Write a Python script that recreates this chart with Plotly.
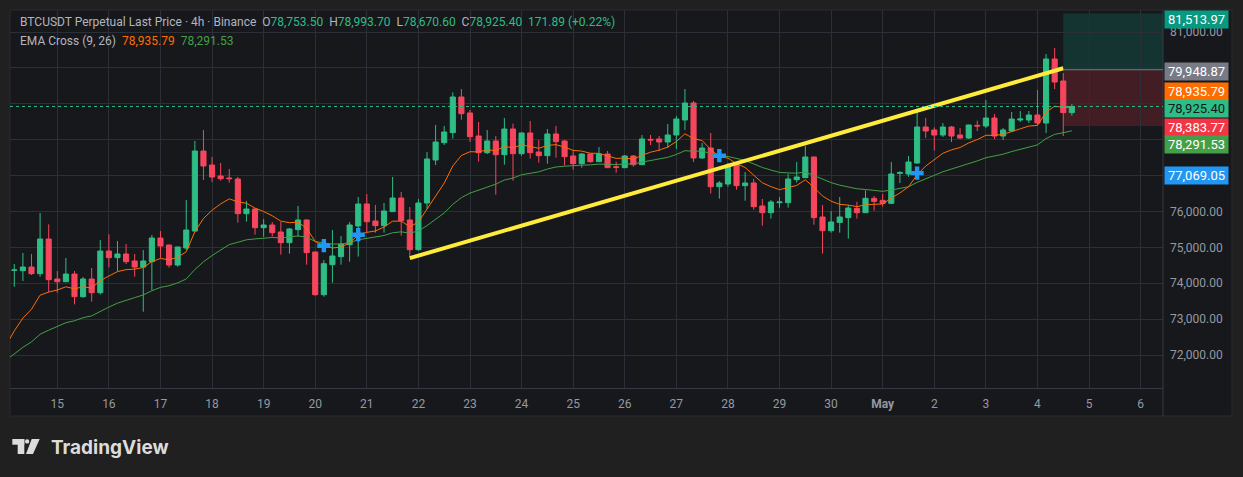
import plotly.graph_objects as go
import pandas as pd

# BTCUSDT perpetual, 4h candles (Binance)
times = pd.date_range("2025-04-14 04:00", periods=124, freq="4h")

opens = [74360, 74350, 74452, 74267, 75233, 74118, 74044, 74257, 73626, 74118,
         73737, 74898, 74713, 74815, 74620, 74452, 74601, 75260, 75065, 74508,
         74982, 75455, 77684, 77294, 76988, 76933, 76905, 75939, 76069, 75549,
         75623, 75428, 75131, 75493, 75763, 74871, 73682, 74518, 74741, 75075,
         75595, 76208, 75735, 75605, 75995, 76375, 75763, 74936, 76236, 77434,
         77917, 78196, 79189, 78744, 78103, 77638, 77963, 77582, 78298, 77610,
         78187, 77657, 77555, 78159, 77963, 77546, 77332, 77601, 77388, 77601,
         77248, 77221, 77546, 77304, 78010, 78020, 77936, 78131, 78549, 79022,
         77490, 77768, 76691, 76765, 77295, 76719, 76793, 76153, 75967, 76245,
         76245, 76887, 76942, 77518, 75846, 75465, 75696, 75828, 76087, 75966,
         76366, 76310, 76227, 77063, 77044, 77350, 78353, 78270, 78130, 78353,
         78130, 78047, 78399, 78381, 78604, 78102, 78242, 78548, 78548, 78687,
         78464, 80248, 79635, 78753.5]
highs = [74536, 74842, 74815, 75957, 75641, 74341, 74703, 74341, 74174, 74425,
         75205, 75363, 75177, 75093, 74815, 74926, 75344, 75455, 75080, 75020,
         76319, 77963, 78270, 77517, 77351, 77183, 76961, 76292, 76080, 75790,
         75707, 75707, 75540, 76153, 75775, 74880, 74648, 75484, 75317, 75707,
         76403, 76487, 76180, 76236, 76961, 76543, 76125, 76348, 77657, 78409,
         78381, 79319, 79412, 78827, 78493, 78270, 78103, 78604, 78446, 78200,
         78521, 77991, 78298, 78381, 77991, 77694, 77629, 77610, 77796, 77685,
         77388, 77573, 77573, 78131, 78131, 78103, 78437, 78660, 79412, 79078,
         77908, 78187, 76849, 77351, 77379, 77100, 76905, 76348, 76320, 76403,
         77044, 77379, 77824, 77525, 76180, 76013, 76403, 76180, 76273, 76589,
         76431, 76487, 77378, 77127, 77545, 78864, 78604, 78344, 78464, 78381,
         78325, 78415, 78530, 79105, 78715, 78325, 78771, 78799, 78799, 79384,
         80387, 80554, 79858, 78993.7]
lows = [73904, 74062, 74230, 74183, 73747, 73737, 74030, 73412, 73598, 73487,
        73690, 74443, 74341, 74536, 74183, 73208, 73811, 74703, 74434, 74462,
        74926, 75440, 76876, 76821, 76858, 76803, 75688, 75716, 75354, 75298,
        75298, 74797, 74825, 75298, 74518, 73654, 73626, 74017, 74518, 74602,
        74741, 75410, 75410, 75410, 75990, 75326, 74741, 74908, 76078, 77295,
        77852, 78029, 78558, 77936, 77388, 77601, 76468, 77304, 76858, 77555,
        77471, 77360, 77332, 77499, 77276, 77165, 77221, 77360, 77380, 77210,
        77081, 77215, 77248, 77300, 77852, 77685, 77768, 77741, 78270, 77379,
        77462, 76496, 76357, 76691, 76608, 76301, 76050, 75605, 75800, 76106,
        76106, 76803, 76942, 75633, 74825, 75410, 75410, 75243, 75799, 75960,
        76022, 76134, 76220, 76793, 76969, 77322, 78047, 77694, 78074, 77935,
        78019, 78019, 78242, 78325, 78019, 77991, 78235, 78492, 78464, 78409,
        78186, 79412, 78102, 78670.6]
closes = [74370, 74452, 74267, 75233, 74100, 74044, 74257, 73626, 74118, 73737,
          74898, 74713, 74815, 74601, 74452, 74620, 75260, 75038, 74508, 75010,
          75483, 77684, 77266, 76960, 76914, 76914, 75939, 76069, 75549, 75623,
          75410, 75131, 75512, 75763, 74853, 73682, 74546, 74760, 75094, 75623,
          76208, 75716, 75605, 76013, 76375, 75744, 74936, 76236, 77462, 77936,
          78214, 79189, 78725, 78084, 77638, 77963, 77582, 78298, 77610, 78187,
          77638, 77555, 78159, 77945, 77527, 77332, 77601, 77388, 77601, 77221,
          77230, 77546, 77304, 78020, 77991, 77936, 78131, 78577, 79022, 77490,
          77768, 76691, 76793, 77295, 76719, 76793, 76134, 75967, 76264, 76264,
          76905, 76961, 77518, 75828, 75465, 75707, 75846, 76097, 75966, 76366,
          76282, 76227, 77044, 77081, 77378, 78353, 78241, 78130, 78353, 78102,
          78047, 78409, 78381, 78604, 78102, 78270, 78576, 78576, 78687, 78464,
          80248, 79607, 78753.5, 78925.4]

# EMA Cross (9, 26) - starting values read at the left edge of the chart
ema_fast_start = 72250
ema_slow_start = 71850

# EMA cross markers
cross_times = ["2025-04-20 04:00", "2025-04-20 20:00", "2025-04-27 20:00", "2025-05-01 16:00"]
cross_prices = [75046, 75353, 77554, 77069]

# yellow trend line
trend_times = ["2025-04-21 20:00", "2025-05-04 12:00"]
trend_prices = [74700, 79990]

# long/short position tool
pos_start = "2025-05-04 12:00"
pos_target = 81513.97
pos_entry = 79948.87
pos_stop = 78383.77

last_price = 78925.40

day_ticks = pd.date_range("2025-04-15", "2025-05-06", freq="D")
day_labels = [str(d.day) if d.day != 1 else "<b>May</b>" for d in day_ticks]
price_ticks = list(range(72000, 82000, 1000))
price_labels = ["" if 77000 <= p <= 80000 else f"{p:,.2f}" for p in price_ticks]

x_range = ["2025-04-14 02:00", "2025-05-06 10:24"]
y_range = [71082, 81613]

UP = "#2ebd85"
DOWN = "#f6465d"
GRID = "#2c2f37"
TXT = "#9598a1"


def ema(values, period, seed):
    k = 2 / (period + 1)
    out = [seed]
    for v in values:
        out.append(out[-1] + k * (v - out[-1]))
    return out


ema_times = [times[0] - pd.Timedelta(hours=4)] + list(times)
ema_fast = ema(closes, 9, ema_fast_start)
ema_slow = ema(closes, 26, ema_slow_start)

# pixel -> paper helpers (plot area spans x 10..1163, y 10..388)
def px(x):
    return (x - 10) / 1153


def py(y):
    return (388 - y) / 378


fig = go.Figure()

fig.add_trace(go.Scatter(x=ema_times, y=ema_slow, mode="lines",
                         line=dict(color="#43a047", width=1), hoverinfo="skip"))
fig.add_trace(go.Scatter(x=ema_times, y=ema_fast, mode="lines",
                         line=dict(color="#ff6d00", width=1), hoverinfo="skip"))

fig.add_trace(go.Candlestick(
    x=times, open=opens, high=highs, low=lows, close=closes,
    increasing=dict(fillcolor=UP, line=dict(color=UP, width=1)),
    decreasing=dict(fillcolor=DOWN, line=dict(color=DOWN, width=1)),
    whiskerwidth=0,
))

fig.add_trace(go.Scatter(x=trend_times, y=trend_prices, mode="lines",
                         line=dict(color="#ffeb3b", width=4), hoverinfo="skip"))

fig.add_trace(go.Scatter(x=cross_times, y=cross_prices, mode="markers",
                         marker=dict(symbol="cross", size=11, color="#2196f3",
                                     line=dict(width=0)),
                         hoverinfo="skip"))

shapes = []
# chart panel background
shapes.append(dict(type="rect", xref="paper", yref="paper", layer="below",
                   x0=px(10), x1=px(1232), y0=py(10), y1=py(416),
                   fillcolor="#17181c", line=dict(color="#2b2b2e", width=1)))
# price axis separator
shapes.append(dict(type="line", xref="paper", yref="paper",
                   x0=1, x1=1, y0=py(10), y1=py(416),
                   line=dict(color="#363a45", width=1)))
# position tool
shapes.append(dict(type="rect", xref="x", yref="y", x0=pos_start, x1=x_range[1],
                   y0=pos_entry, y1=pos_target, fillcolor="rgba(8,153,129,0.22)",
                   line=dict(width=0), layer="below"))
shapes.append(dict(type="rect", xref="x", yref="y", x0=pos_start, x1=x_range[1],
                   y0=pos_stop, y1=pos_entry, fillcolor="rgba(242,54,69,0.2)",
                   line=dict(width=0), layer="below"))
shapes.append(dict(type="line", xref="x", yref="y", x0=pos_start, x1=x_range[1],
                   y0=pos_entry, y1=pos_entry, line=dict(color="#787b86", width=1)))
# last price line
shapes.append(dict(type="line", xref="paper", yref="y", x0=0, x1=1,
                   y0=last_price, y1=last_price,
                   line=dict(color=UP, width=1, dash="dot")))

# TradingView logo mark
LOGO = "#dcdcdc"
shapes.append(dict(type="rect", xref="paper", yref="paper", x0=px(12.3), x1=px(24.3),
                   y0=py(444.7), y1=py(439), fillcolor=LOGO, line=dict(width=0)))
shapes.append(dict(type="rect", xref="paper", yref="paper", x0=px(17.7), x1=px(24.3),
                   y0=py(454), y1=py(439), fillcolor=LOGO, line=dict(width=0)))
shapes.append(dict(type="circle", xref="paper", yref="paper", x0=px(25), x1=px(29.3),
                   y0=py(443.6), y1=py(439.2), fillcolor=LOGO, line=dict(width=0)))
slant = [(31.7, 439), (39.7, 439), (33, 454), (26, 454)]
path = "M " + " L ".join(f"{px(a)},{py(b)}" for a, b in slant) + " Z"
shapes.append(dict(type="path", xref="paper", yref="paper", path=path,
                   fillcolor=LOGO, line=dict(width=0)))

annotations = []


def G(t):
    return f"<span style='color:{UP}'>{t}</span>"


sp = "\u00a0"
line1 = ("BTCUSDT Perpetual Last Price · 4h · Binance" + sp * 2 +
         "O" + G("78,753.50") + sp * 2 + "H" + G("78,993.70") + sp * 2 +
         "L" + G("78,670.60") + sp * 2 + "C" + G("78,925.40") + sp * 2 +
         G("171.89 (+0.22%)"))
line2 = ("EMA Cross (9, 26)" + sp * 2 +
         "<span style='color:#ff6d00'>78,935.79</span>" + sp * 2 +
         "<span style='color:#43a047'>78,291.53</span>")
annotations.append(dict(xref="paper", yref="paper", x=px(18), y=py(22), text=line1,
                        showarrow=False, xanchor="left", yanchor="middle",
                        font=dict(size=12, color="#b2b5be")))
annotations.append(dict(xref="paper", yref="paper", x=px(18), y=py(41), text=line2,
                        showarrow=False, xanchor="left", yanchor="middle",
                        font=dict(size=12, color="#b2b5be")))

# price scale labels (text, pixel y of label centre, background, text colour)
scale_labels = [
    ("81,513.97", 19.3, "#089981", "#ffffff"),
    ("79,948.87", 71.7, "#787b86", "#ffffff"),
    ("78,935.79", 91.3, "#ff6d00", "#ffffff"),
    ("78,925.40", 108, UP, "#131722"),
    ("78,383.77", 127, "#f23645", "#ffffff"),
    ("78,291.53", 144.3, "#43a047", "#ffffff"),
    ("77,069.05", 175.3, "#2196f3", "#ffffff"),
]
for text, yy, bg, fg in scale_labels:
    annotations.append(dict(xref="paper", yref="paper", x=px(1164), y=py(yy),
                            text=text, showarrow=False, xanchor="left",
                            yanchor="middle", bgcolor=bg, width=59, height=13,
                            borderpad=2, align="center",
                            font=dict(size=13, color=fg)))

annotations.append(dict(xref="paper", yref="paper", x=px(49), y=py(447),
                        text="<b>TradingView</b>", showarrow=False,
                        xanchor="left", yanchor="middle",
                        font=dict(size=19, color=LOGO, family="Inter")))

fig.update_layout(
    width=1243, height=477,
    margin=dict(l=10, r=80, t=10, b=89),
    paper_bgcolor="#202020",
    plot_bgcolor="rgba(0,0,0,0)",
    font=dict(family="Roboto", color=TXT, size=12),
    showlegend=False,
    boxgap=0.15,
    shapes=shapes,
    annotations=annotations,
    xaxis=dict(range=x_range, type="date", rangeslider=dict(visible=False),
               tickvals=day_ticks, ticktext=day_labels, showgrid=True,
               gridcolor=GRID, zeroline=False, showline=True,
               linecolor="#363a45", ticks="", ticklabelstandoff=5,
               tickfont=dict(size=12, color=TXT)),
    yaxis=dict(range=y_range, side="right", tickvals=price_ticks,
               ticktext=price_labels, showgrid=True, gridcolor=GRID,
               zeroline=False, ticks="", ticklabelstandoff=6,
               tickfont=dict(size=12, color=TXT)),
)

# drop the default page margin so the figure sits at the window's top-left
page_js = ("document.body.style.margin='0';"
           "document.body.style.background='#202020';"
           "document.body.style.overflow='hidden';")
fig.write_html("out.html", post_script=page_js,
               config={"displayModeBar": False})
